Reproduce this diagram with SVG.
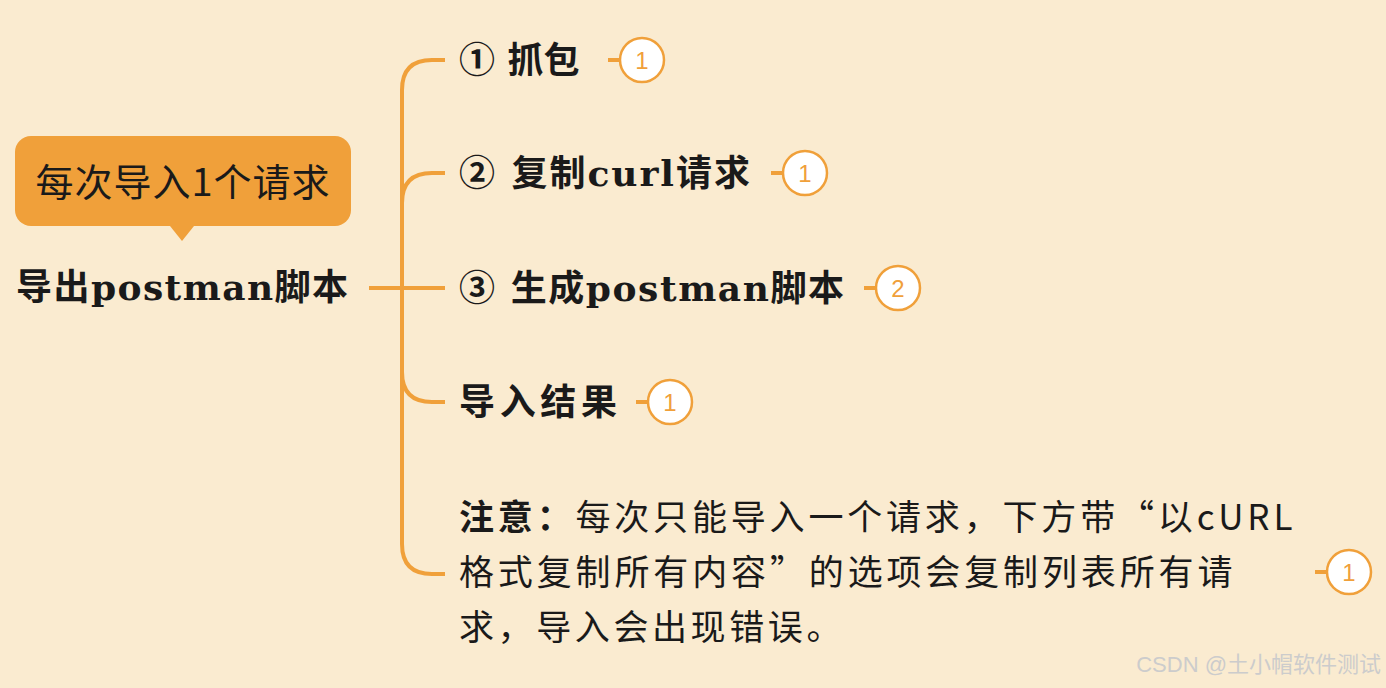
<svg xmlns="http://www.w3.org/2000/svg" width="1386" height="688" viewBox="0 0 1386 688">
<style>
.b{font-family:"DejaVu Serif","Noto Sans CJK SC",serif;font-weight:bold;font-size:36px;fill:#1a1a1a}
.n{font-family:"Noto Sans CJK SC",sans-serif;font-size:35px;letter-spacing:2.6px;fill:#1a1a1a}
.c{fill:#fff;stroke:#F0A03A;stroke-width:2.5}
.ct{font-family:"Liberation Sans",sans-serif;font-size:24px;fill:#F0A03A;text-anchor:middle}
.l{fill:none;stroke:#F0A03A;stroke-width:4}
</style>
<rect width="1386" height="688" fill="#FAEBD0"/>
<g id="connectors" class="l">
<path d="M445 60 H432 Q402 60 402 90 V544 Q402 574 432 574 H445"/>
<path d="M445 173 H432 Q402 173 402 203"/>
<path d="M445 402 H432 Q402 402 402 372"/>
<path d="M369 288 H445"/>
</g>
<g id="tip">
<rect x="15" y="136" width="336" height="90" rx="16" fill="#F0A03A"/>
<path d="M170 226 L182 241 L194 226 Z" fill="#F0A03A"/>
<text x="183" y="196" text-anchor="middle" font-family="Noto Sans CJK SC,sans-serif" font-size="38" letter-spacing="1" fill="#1a1a1a">每次导入1个请求</text>
</g>
<g id="root"><text class="b" x="16" y="300" textLength="332">导出postman脚本</text></g>
<g id="n1"><text class="b" x="459" y="73">① 抓包</text>
<path class="l" d="M608 60H620"/><circle class="c" cx="642" cy="60" r="22"/><text class="ct" x="642" y="69">1</text></g>
<g id="n2"><text class="b" x="459" y="186" textLength="291">② 复制curl请求</text>
<path class="l" d="M771 173H783"/><circle class="c" cx="805" cy="173" r="22"/><text class="ct" x="805" y="182">1</text></g>
<g id="n3"><text class="b" x="459" y="301" textLength="385">③ 生成postman脚本</text>
<path class="l" d="M864 288H876"/><circle class="c" cx="898" cy="288" r="22"/><text class="ct" x="898" y="297">2</text></g>
<g id="n4"><text class="b" x="459" y="415" textLength="158">导入结果</text>
<path class="l" d="M636 402H648"/><circle class="c" cx="670" cy="402" r="22"/><text class="ct" x="670" y="411">1</text></g>
<g id="n5">
<text class="n" x="459" y="530" textLength="836"><tspan font-weight="bold">注意：</tspan>每次只能导入一个请求，下方带“以cURL</text>
<text class="n" x="459" y="585" textLength="776">格式复制所有内容”的选项会复制列表所有请</text>
<text class="n" x="459" y="640" textLength="385">求，导入会出现错误。</text>
<path class="l" d="M1315 572H1327"/><circle class="c" cx="1349" cy="572" r="22"/><text class="ct" x="1349" y="581">1</text></g>
<text x="1381" y="672" text-anchor="end" font-family="Liberation Sans,Noto Sans CJK SC,sans-serif" font-size="22" fill="#ccc">CSDN @土小帽软件测试</text>
</svg>
